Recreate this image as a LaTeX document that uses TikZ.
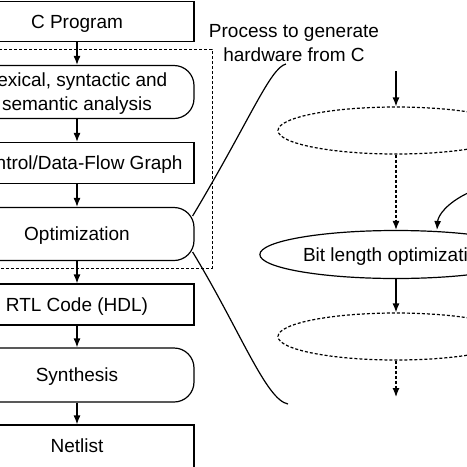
\documentclass[tikz,border=0pt]{standalone}
\usepackage{fontspec}
\setmainfont{Liberation Sans}
\usetikzlibrary{positioning,shapes,arrows.meta}

\begin{document}
\begin{tikzpicture}[x=1pt, y=-1pt, line width=1.2pt,
    txt/.style={font=\fontsize{19}{24}\selectfont, text depth=0pt},
    flowbox/.style={txt, draw, rectangle, minimum width=234pt, align=center},
    procbox/.style={flowbox, rounded corners=20pt},
    ovalbox/.style={txt, draw, ellipse, minimum width=236pt, minimum height=47pt},
    dotline/.style={dash pattern=on 3pt off 2pt},
    arr/.style={-{Latex[length=9pt,width=7pt]}}]
    \useasboundingbox (0,0) rectangle (467,467);
    \clip (0,0) rectangle (467,467);

    % Design flow
    \node[flowbox, minimum height=40pt] (cprog) at (77,21.5) {C Program};
    \node[procbox, minimum height=53pt] (lexical) at (77,92) {Lexical, syntactic and\\semantic analysis};
    \node[flowbox, minimum height=41pt] (cdfg) at (77,163) {Control/Data-Flow Graph};
    \node[procbox, minimum height=53pt] (optim) at (77,234) {Optimization};
    \node[flowbox, minimum height=41pt] (rtl) at (77,304.5) {RTL Code (HDL)};
    \node[procbox, minimum height=54pt] (synth) at (77,375) {Synthesis};
    \node[flowbox, minimum height=46pt, text depth=4pt] (netlist) at (77,448) {Netlist};

    \foreach \a/\b in {cprog/lexical, lexical/cdfg, cdfg/optim, optim/rtl, rtl/synth, synth/netlist}
        \draw[arr] (\a) -- (\b);

    % Front end region
    \draw[dotline, line width=1pt] (-40,49) rectangle (212,268);

    % Zoomed part
    \node[txt, align=center] (proclabel) at (294,42.5) {Process to generate\\hardware from C};
    \coordinate (zoomtop) at (286,64);
    \coordinate (zoombot) at (288,404);
    \draw ([xshift=-2pt,yshift=18pt]optim.east) .. controls (250,120) and (270,68) .. (zoomtop);
    \draw ([xshift=-2pt,yshift=-18pt]optim.east) .. controls (240,330) and (266,400) .. (zoombot);

    \node[ovalbox, dotline] (passA) at (396,130.5) {};
    \node[ovalbox, minimum height=48pt] (bitlen) at (396,254.5) {Bit length optimization};
    \node[ovalbox, dotline] (passB) at (396,336.5) {};

    \coordinate (inA) at (396,71);
    \coordinate (outB) at (396,397);
    \coordinate (fbk) at (470,192);
    \draw[arr] (inA) -- (passA);
    \draw[arr, dotline] (passA) -- (bitlen);
    \draw[arr] (bitlen) -- (passB);
    \draw[arr, dotline] (passB) -- (outB);
    \draw[arr] (fbk) .. controls (446,203) and (438,216) .. (437,230);
\end{tikzpicture}
\end{document}
